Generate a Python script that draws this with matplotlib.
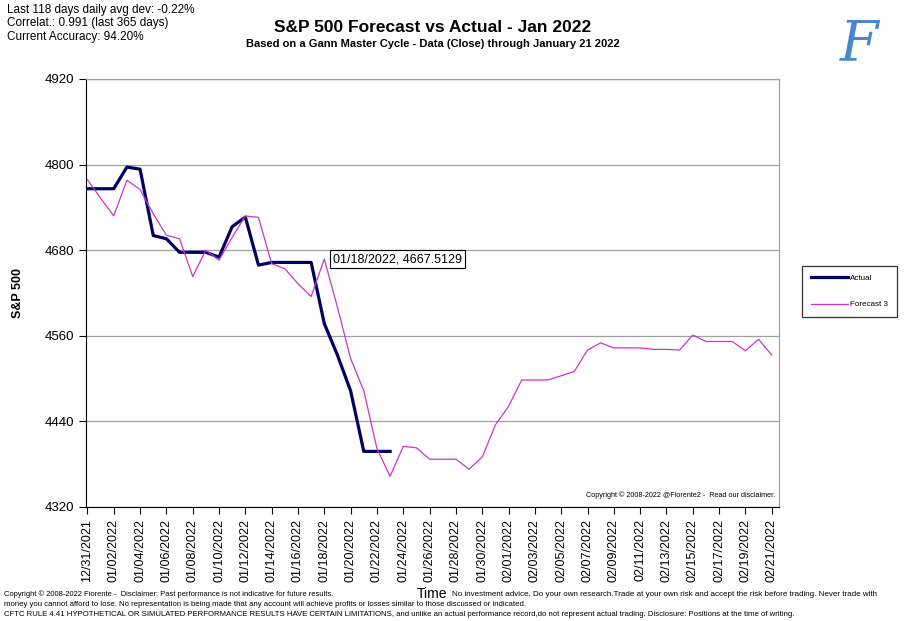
import matplotlib
matplotlib.use('Agg')
import matplotlib.pyplot as plt
import matplotlib.dates as mdates
from matplotlib import font_manager
import numpy as np
import pandas as pd

# Data
dates = pd.date_range('2021-12-31', '2022-02-21', freq='D')
actual = [4766.18, 4766.18, 4766.18, 4796.56, 4793.54, 4700.58, 4696.05, 4677.03,
          4677.03, 4677.03, 4670.29, 4713.07, 4726.35, 4659.03, 4662.85, 4662.85,
          4662.85, 4662.85, 4577.11, 4532.76, 4482.73, 4397.94, 4397.94, 4397.94]
forecast = [4779, 4753, 4728, 4778, 4765, 4731, 4701, 4696, 4643, 4680,
            4666, 4698, 4728, 4726, 4661, 4654, 4633, 4615, 4667.5129, 4600,
            4528, 4483, 4402, 4363, 4405, 4403, 4387, 4387, 4387, 4373,
            4390, 4435, 4461, 4498, 4498, 4498, 4504, 4510, 4540, 4550,
            4543, 4543, 4543, 4541, 4541, 4540, 4561, 4552, 4552, 4552,
            4539, 4555, 4533]
y_ticks = [4320, 4440, 4560, 4680, 4800, 4920]

actual_full = np.full(len(dates), np.nan)
actual_full[:len(actual)] = actual

plt.rcParams['font.family'] = ['Liberation Sans', 'DejaVu Sans']

try:
    font_manager.findfont('Liberation Sans Narrow', fallback_to_default=False)
    narrow = ['Liberation Sans Narrow', 'DejaVu Sans']
except Exception:
    narrow = ['Liberation Sans', 'DejaVu Sans']

fig = plt.figure(figsize=(9.06, 6.21), dpi=100)
ax = fig.add_axes([0.0949, 0.1836, 0.7649, 0.6892])

ax.plot(dates, actual_full, color='#000066', lw=2.3, label='Actual', zorder=3)
ax.plot(dates, forecast, color='#cc33cc', lw=0.9, label='Forecast 3', zorder=4)

day = pd.Timedelta(days=1)
ax.set_xlim(dates[0] - 0.11 * day, dates[-1] + 0.55 * day)
ax.set_ylim(4320, 4920)
ax.set_yticks(y_ticks)
ax.tick_params(axis='y', labelsize=9.5, length=5, direction='out')
ax.set_xticks(dates[::2])
ax.xaxis.set_major_formatter(mdates.DateFormatter('%m/%d/%Y'))
ax.tick_params(axis='x', labelsize=9, rotation=90, length=5, direction='out')
ax.grid(axis='y', color='#a0a0a0', lw=0.9)
ax.set_axisbelow(True)
for s in ['top', 'right']:
    ax.spines[s].set_color('#a0a0a0')
    ax.spines[s].set_linewidth(0.9)
ax.set_ylabel('S&P 500', fontsize=9, fontweight='bold', labelpad=15)

# tooltip label
ax.annotate('01/18/2022, 4667.5129', xy=(dates[18], 4667.5129), xytext=(6, 0),
            textcoords='offset points', fontsize=9, va='center', ha='left',
            bbox=dict(boxstyle='square,pad=0.25', fc='white', ec='black', lw=0.8),
            zorder=6)

ax.text(0.995, 0.018, 'Copyright \u00a9 2008-2022 @Fiorente2 -  Read our disclaimer.',
        transform=ax.transAxes, fontsize=5.2, ha='right', va='bottom')

# legend
leg = fig.legend(loc='center', bbox_to_anchor=(849.5 / 906, 1 - 291.5 / 621),
                 fontsize=5.8, frameon=True, fancybox=False, edgecolor='black',
                 handlelength=4.6, labelspacing=2.3, borderpad=1.1, handletextpad=0.3)
leg.get_frame().set_linewidth(0.9)

# titles
fig.text(433 / 906, 1 - 27 / 621, 'S&P 500 Forecast vs Actual - Jan 2022',
         fontsize=12.5, fontweight='bold', ha='center', va='center')
fig.text(433 / 906, 1 - 44 / 621,
         'Based on a Gann Master Cycle - Data (Close) through January 21 2022',
         fontsize=8, fontweight='bold', ha='center', va='center')

fig.text(7 / 906, 1 - 4 / 621,
         'Last 118 days daily avg dev: -0.22%\nCorrelat.: 0.991 (last 365 days)\nCurrent Accuracy: 94.20%',
         fontsize=8.5, ha='left', va='top', linespacing=1.15)

# logo
fig.text(859 / 906, 1 - 45 / 621, 'F', fontsize=40, color='#4a86cf',
         family='DejaVu Serif', style='italic', ha='center', va='center')

# footer
fig.text(417 / 906, 1 - 594 / 621, 'Time', fontsize=10, family=narrow,
         ha='left', va='center')
fig.text(4 / 906, 1 - 594 / 621,
         'Copyright \u00a9 2008-2022 Fiorente -  Disclaimer: Past performance is not indicative for future results.',
         fontsize=5.4, family=narrow, ha='left', va='center')
fig.text(452 / 906, 1 - 594 / 621,
         'No investment advice. Do your own research.Trade at your own risk and accept the risk before trading. Never trade with',
         fontsize=5.8, family=narrow, ha='left', va='center')
fig.text(4 / 906, 1 - 604 / 621,
         'money you cannot afford to lose. No representation is being made that any account will achieve profits or losses similar to those discussed or indicated.',
         fontsize=5.6, family=narrow, ha='left', va='center')
fig.text(4 / 906, 1 - 614 / 621,
         'CFTC RULE 4.41 HYPOTHETICAL OR SIMULATED PERFORMANCE RESULTS HAVE CERTAIN LIMITATIONS, and unlike an actual performance record,do not represent actual trading. Disclosure: Positions at the time of writing.',
         fontsize=5.6, family=narrow, ha='left', va='center')

plt.savefig('out.png', dpi=100)
